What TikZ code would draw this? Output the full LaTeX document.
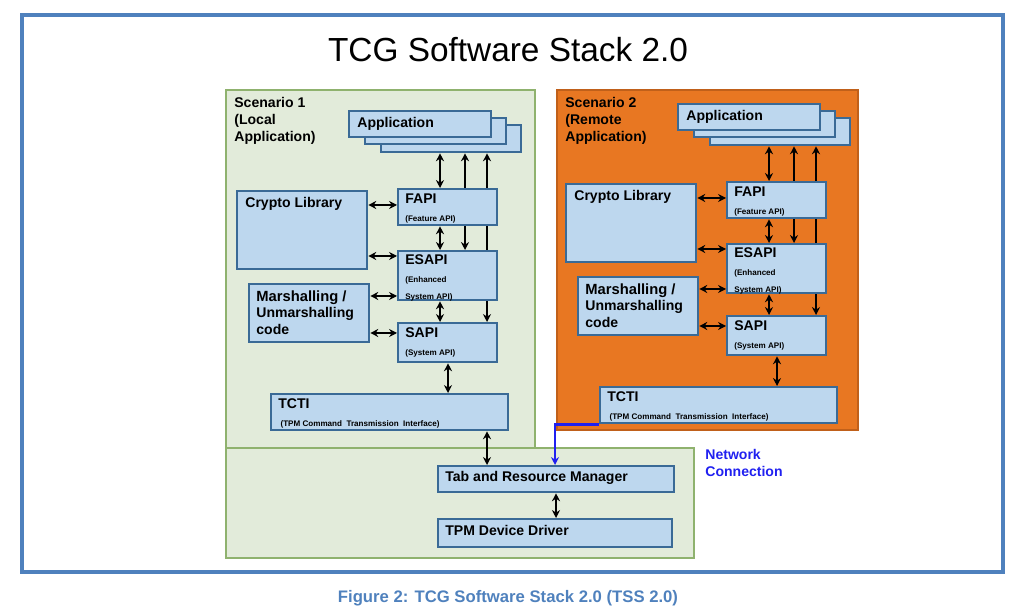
\documentclass[tikz,border=0pt]{standalone}
\usepackage{fontspec}
\setmainfont{Liberation Sans}
\usetikzlibrary{arrows.meta}
\definecolor{boxfill}{HTML}{BDD7EE}
\definecolor{boxline}{HTML}{3A6A96}
\definecolor{frameblue}{HTML}{4F81BD}
\definecolor{panelgreen}{HTML}{E2EBDA}
\definecolor{panelgreenline}{HTML}{8FB26E}
\definecolor{panelorange}{HTML}{E87722}
\definecolor{panelorangeline}{HTML}{C0601A}
\definecolor{netblue}{HTML}{2020F0}
\tikzset{
  bx/.style 2 args={draw=boxline, fill=boxfill, line width=1.3pt, minimum width=#1*0.02cm,
    minimum height=#2*0.02cm, anchor=north west, inner sep=0pt},
  lbl/.style={anchor=north west, font=\bfseries\fontsize{8}{9.6}\selectfont, align=left, inner sep=0pt},
  sub/.style={font=\bfseries\fontsize{4.6}{5.6}\selectfont},
  tip/.style={Stealth[length=4.5pt,width=4.5pt]},
  both/.style={line width=1.2pt, {Stealth[length=4.5pt,width=4.5pt]}-{Stealth[length=4.5pt,width=4.5pt]}},
  one/.style={line width=1.2pt, -{Stealth[length=4.5pt,width=4.5pt]}},
  plain/.style={line width=1.2pt},
}
\begin{document}
\begin{tikzpicture}[x=0.02cm,y=-0.02cm]
\useasboundingbox (0,0) rectangle (1017,614);
% outer frame
\draw[frameblue, line width=2pt] (22,15) rectangle (1003,572);
\node (title) at (508,50) {\fontsize{19}{22}\selectfont TCG Software Stack 2.0};
\node (caption) at (508,598) {\color{frameblue}\bfseries\fontsize{9.5}{11}\selectfont Figure 2: TCG Software Stack 2.0 (TSS 2.0)};
% panels
\draw[panelgreenline, fill=panelgreen, line width=1pt] (226,90) rectangle (535,448);
\draw[panelgreenline, fill=panelgreen, line width=1pt] (226,448) rectangle (694,558);
\draw[panelorangeline, fill=panelorange, line width=1pt] (557,90) rectangle (858,430);
\node[lbl] (s1) at (234,97) {Scenario 1\\(Local\\Application)};
\node[lbl] (s2) at (565,97) {Scenario 2\\(Remote\\Application)};
% the two stacks
\foreach \p/\dx/\dy in {a/0/0, b/329/-7}{
\begin{scope}[shift={(\dx,\dy)}]
  \node[bx={140}{27}] (\p app3) at (380,124) {};
  \node[bx={141}{26}] (\p app2) at (364,117) {};
  \node[bx={142}{26}] (\p app1) at (348,110) {};
  \node[lbl] at (357,117) {Application};
  \node[bx={99}{36}] (\p fapi) at (397,188) {};
  \node[lbl] at (405,193) {FAPI\\[1pt]\hbox{\tikzset{}\bfseries\fontsize{4.6}{5.6}\selectfont(Feature API)}};
  \node[bx={99}{49}] (\p esapi) at (397,250) {};
  \node[lbl] at (405,254) {ESAPI\\[1pt]{\fontsize{4.6}{5.8}\selectfont(Enhanced}\\{\fontsize{4.6}{5.8}\selectfont System API)}};
  \node[bx={99}{39}] (\p sapi) at (397,322) {};
  \node[lbl] at (405,327) {SAPI\\[1pt]{\fontsize{4.6}{5.6}\selectfont(System API)}};
  \node[bx={130}{78}] (\p crypto) at (236,190) {};
  \node[lbl] at (245,197) {Crypto Library};
  \node[bx={120}{58}] (\p marsh) at (248,283) {};
  \node[lbl] at (256,290) {\fontsize{8.4}{10.2}\selectfont Marshalling /\\Unmarshalling\\code};
  \node[bx={237}{36}] (\p tcti) at (270,393) {};
  \node[lbl] at (278,398) {TCTI\\[1pt]{\fontsize{4.6}{5.6}\selectfont\ (TPM Command\ \ Transmission\ \ Interface)}};
  % columns and rows
  \coordinate (\p c1) at (440,0);
  \coordinate (\p c2) at (465,0);
  \coordinate (\p c3) at (487,0);
  \coordinate (\p c4) at (448,0);
  \coordinate (\p r1) at (0,205);
  \coordinate (\p r2) at (0,256);
  \coordinate (\p r3) at (0,296);
  \coordinate (\p r4) at (0,333);
  % vertical links
  \draw[both] (\p c1 |- \p app3.south) -- (\p c1 |- \p fapi.north);
  \draw[both] (\p c1 |- \p fapi.south) -- (\p c1 |- \p esapi.north);
  \draw[both] (\p c1 |- \p esapi.south) -- (\p c1 |- \p sapi.north);
  \draw[one] (\p c2 |- \p fapi.north) -- (\p c2 |- \p app3.south);
  \draw[one] (\p c2 |- \p fapi.south) -- (\p c2 |- \p esapi.north);
  \draw[one] (\p c3 |- \p fapi.north) -- (\p c3 |- \p app3.south);
  \draw[plain] (\p c3 |- \p fapi.south) -- (\p c3 |- \p esapi.north);
  \draw[one] (\p c3 |- \p esapi.south) -- (\p c3 |- \p sapi.north);
  \draw[both] (\p c4 |- \p sapi.south) -- (\p c4 |- \p tcti.north);
  % horizontal links
  \draw[both] (\p crypto.east |- \p r1) -- (\p fapi.west |- \p r1);
  \draw[both] (\p crypto.east |- \p r2) -- (\p esapi.west |- \p r2);
  \draw[both] (\p marsh.east |- \p r3) -- (\p esapi.west |- \p r3);
  \draw[both] (\p marsh.east |- \p r4) -- (\p sapi.west |- \p r4);
\end{scope}
}
% resource manager and driver
\node[bx={236}{26}] (tab) at (437,465) {};
\node[lbl] at (445,471) {Tab and Resource Manager};
\node[bx={234}{28}] (drv) at (437,518) {};
\node[lbl] at (445,525) {TPM Device Driver};
\coordinate (cd) at (556,0);
\coordinate (cn) at (555,0);
\draw[both] (ac3 |- atcti.south) -- (ac3 |- tab.north);
\draw[both] (cd |- tab.south) -- (cd |- drv.north);
\draw[netblue, line width=1.5pt, -{Stealth[length=4.5pt,width=4.5pt]}] (btcti.south west) -| (cn |- tab.north);
\node[lbl, text=netblue] (net) at (705,449) {Network\\Connection};
\end{tikzpicture}
\end{document}
